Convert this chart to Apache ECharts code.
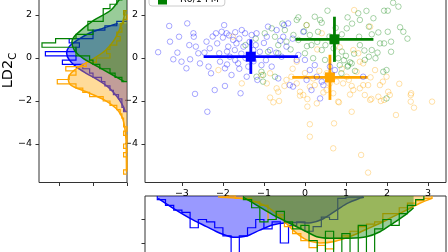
<!DOCTYPE html>
<html>
<head>
<meta charset="utf-8">
<script src="https://cdn.jsdelivr.net/npm/echarts@6/dist/echarts.min.js"></script>
<style>
html, body { margin: 0; padding: 0; background: #fff; }
#chart { width: 448px; height: 252px; }
</style>
</head>
<body>
<div id="chart"></div>
<script>
// scatter points [LD1, LD2] per group
const bluePts = [[-3.58,0.27],[-3.31,1.49],[-3.29,0.76],[-3.21,-0.06],[-3.11,0.25],[-3.07,0.99],[-3.01,-0.17],[-2.87,1.61],[-2.89,-0.48],[-2.82,0.6],[-2.8,-0.06],[-2.72,1.15],[-2.71,0.99],[-2.68,-1.67],[-2.66,0.53],[-2.6,0.22],[-2.56,-0.25],[-2.4,0.76],[-2.38,-2.5],[-2.35,-0.4],[-2.32,0.45],[-2.29,-0.71],[-2.2,-1.49],[-2.17,1.15],[-2.14,0.68],[-2.09,0.22],[-2.07,-0.17],[-2.03,1.22],[-1.97,1.53],[-1.95,-0.48],[-1.95,-1.3],[-1.91,1.15],[-1.87,0.53],[-1.83,0.06],[-1.79,-0.79],[-1.75,0.84],[-1.71,0.37],[-1.67,0.68],[-1.63,-0.25],[-1.57,-1.64],[-1.54,1.3],[-1.5,0.53],[-1.46,1.15],[-1.42,-0.87],[-1.38,-0.4],[-1.3,1.07],[-1.26,0.37],[-1.18,1.15],[-1.16,-1.02],[-1.1,0.29],[-1.06,-0.33],[-0.93,0.99],[-0.9,1.46],[-0.85,0.37],[-0.81,-0.4],[-0.69,1.3],[-0.65,-0.95],[-0.57,0.06],[-0.53,0.99],[-0.51,1.53],[-0.45,0.53],[-0.41,1.61],[-0.37,-1.26],[-0.29,-1.33],[-0.2,-0.09],[-0.16,0.14],[-0.04,1.22],[0,-0.09],[0.04,-1.02],[0.12,-0.56],[0.16,-1.49],[0.24,-0.33],[0.29,-0.87],[0.37,-1.88],[0.41,-1.1],[0.45,-1.26],[0.61,-0.4],[0.73,-0.56],[1.42,-0.87],
  [-2.0,0.95],[-1.85,1.05],[-1.7,1.2],[-1.6,0.9],[-1.55,0.2],[-1.45,0.0],[-1.7,-0.1],[-1.9,0.3],[-1.6,-0.5],[-1.35,0.75],[-1.25,-0.15],[-1.9,-0.3],[-2.25,1.0],[-2.45,0.25],[-1.2,0.6],[-1.0,0.7],[-0.7,0.25],[-0.3,0.9],[-0.6,0.8],[-0.95,-0.1]];
const orangePts = [[-2.11,-0.56],[-1.54,-1.18],[-1.06,-0.79],[-0.93,-1.18],[-0.85,-0.71],[-0.69,-1.41],[-0.65,-1.57],[-0.45,-1.02],[-0.33,-0.87],[-0.2,-1.18],[-0.12,-1.57],[-0.04,-1.72],[0.04,1.53],[0.12,-1.33],[0.24,-1.26],[0.29,-2.11],[0.41,1.15],[0.53,-1.49],[0.69,-1.64],[0.77,-1.1],[0.81,-2.03],[0.93,-1.18],[1.18,0.37],[1.26,-0.64],[1.34,-0.17],[1.59,1.46],[1.71,-0.56],[0.53,-0.71],[1.02,-0.87],[1.42,-1.26],[-0.2,-0.17],
  [-0.85,-1.84],[-0.77,-2.06],[-0.63,-2.0],[-0.12,-1.75],[0.06,-1.91],[0.06,-2.26],[0.12,-3.08],[0.12,-3.66],[0.71,-3.04],[0.69,-4.2],[0.83,-2.06],[1.14,-2.5],[1.37,-4.51],[1.54,-5.33],[1.59,-1.95],[1.46,-1.72],[1.85,-2.0],[1.93,-1.95],[2.07,-1.72],[2.22,-2.65],[2.58,-2.03],[2.66,-2.31],[3.1,-2.03],[2.58,-1.72],
  [1.07,-1.02],[1.14,-1.3],[1.18,-1.49],[1.34,-1.41],[1.54,-1.26],[1.62,-1.9],[1.79,-1.8],[1.83,-1.26],[2.03,-1.57],[1.99,-0.87],[1.2,2.23],[1.3,0.22],[1.42,-0.25],[2.59,-1.64],[-1.76,0.99],
  [0.35,-0.6],[0.6,-1.2],[0.9,-0.5],[0.2,-0.95],[1.1,-1.7],[0.45,-1.6],[0.0,-0.7],[-0.5,-1.3],[1.6,-0.9],[2.3,-1.2],[1.9,-1.1],[-0.3,-0.5],[0.85,0.5],[0.3,0.4]];
const greenPts = [[1.04,1.89],[1.3,2.08],[1.34,1.77],[1.5,2.19],[1.67,1.85],[1.93,2.2],[2.02,2.2],[2.15,2.57],[2.28,2.39],[2.32,1.43],[2.4,1.22],[1.02,1.38],[1.56,1.46],[1.63,1.1],[1.79,1.19],[2.02,1.22],[1.32,0.99],[1.83,0.68],[2.1,0.76],[1.34,0.6],[1.93,0.68],[1.63,0.37],[1.77,0.25],[2.1,0.29],[1.56,0.06],[1.72,-0.01],[1.46,-0.09],[1.14,-0.25],[1.22,-0.6],[1.99,-0.56],[1.04,-0.4],
  [-0.16,1.89],[0.04,1.53],[0.24,1.92],[0.41,1.64],[0.55,2.2],[-0.98,1.15],[-0.81,1.38],[-0.73,0.99],[-0.65,0.6],[-0.49,1.3],[-0.45,0.76],[-0.28,1.07],[-0.16,0.84],[-0.02,1.24],[0.12,1.07],[0.16,0.6],[0.32,1.22],[0.41,0.37],[-0.9,0.29],[-0.65,0.22],[0,0.22],[0.2,-0.01],[0.49,-0.09],[0.81,-0.01],[0.85,-0.33],[-1.06,-0.64],[-1.18,-0.87],[-1.02,-1.1],[-0.73,-0.87],[0.89,-0.71],
  [-1.02,-0.79],[-0.2,1.77],[0.37,1.77],[1.91,-0.64],[1.99,-1.88],
  [1.0,0.1],[1.1,-0.2],[0.9,0.3],[1.2,0.2],[1.05,-0.35],[0.95,-0.1],
  [0.6,1.0],[0.75,1.4],[0.9,1.1],[1.15,1.6],[0.5,0.6],[0.7,0.45],[1.45,0.35],[0.3,0.75],[-0.35,0.4],[-1.2,0.9],[-0.55,1.6],[0.05,0.55],[2.5,0.9],[-1.45,0.6],[2.62,2.85]];

// group means and spreads (blue, orange, green)
const groupNames = ['R6/1 AM', 'R6/1 noon', 'R6/1 PM'];
const meanX = [-1.32, 0.61, 0.72];
const meanY = [0.06, -0.9, 0.87];
const errX = [1.15, 0.92, 0.95];
const errY = [0.8, 1.05, 1.05];

// marginal densities along LD2 (left panel)
const blueKdeYAt = [1.61,1.38,1.15,0.84,0.53,0.22,-0.09,-0.4,-0.71,-1.02,-1.33,-1.64,-1.95,-2.26,-2.5];
const blueKdeY = [0.055,0.143,0.222,0.29,0.34,0.355,0.34,0.3,0.24,0.172,0.114,0.075,0.045,0.022,0.01];
const orangeKdeYAt = [2.23,1.77,1.3,0.84,0.37,-0.01,-0.4,-0.71,-0.95,-1.26,-1.57,-1.95,-2.34,-2.73,-3.2,-3.8,-4.5,-5.33];
const orangeKdeY = [0.01,0.022,0.045,0.075,0.124,0.192,0.28,0.33,0.345,0.33,0.24,0.134,0.065,0.03,0.014,0.006,0.004,0.003];
const greenKdeYAt = [2.9,2.23,1.77,1.3,1.0,0.76,0.37,-0.01,-0.4,-0.79,-1.1];
const greenKdeY = [0.03,0.094,0.192,0.27,0.31,0.324,0.31,0.26,0.172,0.084,0.016];

// marginal densities along LD1 (bottom panel)
const blueKdeXAt = [-3.58,-3.21,-2.8,-2.4,-2.07,-1.75,-1.42,-1.1,-0.77,-0.45,-0.12,0.15,0.41,0.69,1.02,1.34,1.44];
const blueKdeX = [0.02,0.105,0.19,0.26,0.317,0.351,0.34,0.29,0.245,0.228,0.225,0.228,0.2,0.14,0.065,0.018,0.01];
const orangeKdeXAt = [-2.07,-1.6,-1.3,-0.93,-0.61,-0.29,0.04,0.37,0.69,1.1,1.5,1.83,2.15,2.48,2.8,3.1];
const orangeKdeX = [0.011,0.02,0.04,0.09,0.176,0.29,0.374,0.4,0.39,0.346,0.283,0.232,0.176,0.119,0.062,0.02];
const greenKdeXAt = [-1.5,-1.18,-0.77,-0.37,0.04,0.29,0.61,1.02,1.5,1.83,2.15,2.45,2.65];
const greenKdeX = [0.011,0.077,0.162,0.232,0.304,0.346,0.36,0.36,0.346,0.304,0.232,0.16,0.1];

// step histograms: first bin edge + bin heights, bins 0.2 wide
const binW = 0.2;
const blueHistYStart = -2.5;
const blueHistY = [0.02,0.03,0.03,0.05,0.08,0.1,0.13,0.15,0.2,0.22,0.26,0.38,0.3,0.48,0.3,0.28,0.34,0.2,0.2,0.13,0.06];
const orangeHistYStart = -5.4;
const orangeHistY = [0.02,0,0,0,0.02,0,0.02,0,0,0.02,0,0.02,0.02,0.03,0.04,0.06,0.1,0.14,0.22,0.26,0.3,0.41,0.34,0.3,0.36,0.24,0.18,0.1,0.12,0.1,0.06,0.04,0.06,0.03,0.04,0.02,0,0.02];
const greenHistYStart = -1.1;
const greenHistY = [0.03,0.07,0.1,0.16,0.2,0.22,0.3,0.3,0.5,0.42,0.3,0.2,0.23,0.23,0.14,0.14,0.14,0.1,0.06,0.03];
const blueHistXStart = -3.6;
const blueHistX = [0.03,0.08,0.12,0.14,0.27,0.2,0.22,0.27,0.34,0.6,0.34,0.27,0.2,0.28,0.22,0.4,0.25,0.22,0.3,0.26,0.18,0.2,0.02,0.01,0.01];
const orangeHistXStart = -2.1;
const orangeHistX = [0.01,0,0.02,0.02,0.05,0.08,0.2,0.16,0.26,0.32,0.38,0.44,0.42,0.45,0.36,0.34,0.3,0.26,0.24,0.22,0.15,0.15,0.1,0.06,0.04,0.02];
const greenHistXStart = -1.5;
const greenHistX = [0.03,0.1,0.22,0.2,0.13,0.22,0.28,0.25,0.38,0.6,0.3,0.6,0.32,0.6,0.25,0.6,0.28,0.2,0.25,0.15,0.08,0.03];

const xTicks = [-3, -2, -1, 0, 1, 2, 3];
const yTicks = [-4, -2, 0, 2];

const colors = ['#0000ff', '#ffa500', '#008000'];
const frame = '#333';

function minus(v) { return v < 0 ? '\u2212' + (-v) : '' + v; }
function fade(hex, a) {
    const n = parseInt(hex.slice(1), 16);
    return 'rgba(' + (n >> 16) + ',' + ((n >> 8) & 255) + ',' + (n & 255) + ',' + a + ')';
}
function bbox(pts) {
    const xs = pts.map(p => p[0]), ys = pts.map(p => p[1]);
    return [[Math.min.apply(null, xs), Math.min.apply(null, ys)], [Math.max.apply(null, xs), Math.max.apply(null, ys)]];
}

const myChart = echarts.init(document.getElementById('chart'), null, { renderer: 'canvas' });

function scatterSeries(pts, i) {
    return {
        type: 'scatter', xAxisIndex: 0, yAxisIndex: 0, data: pts, silent: true,
        symbol: 'circle', symbolSize: 5.5,
        itemStyle: { color: 'rgba(0,0,0,0)', borderColor: fade(colors[i], 0.42), borderWidth: 1 }
    };
}

function meanSeries(i) {
    const c = colors[i];
    return {
        type: 'custom', name: groupNames[i], xAxisIndex: 0, yAxisIndex: 0, silent: true,
        itemStyle: { color: c },
        data: [[meanX[i], meanY[i], errX[i], errY[i]]],
        encode: { x: 0, y: 1 },
        renderItem: function (params, api) {
            const x = api.value(0), y = api.value(1), ex = api.value(2), ey = api.value(3);
            const m = api.coord([x, y]);
            const l = api.coord([x - ex, y]), r = api.coord([x + ex, y]);
            const t = api.coord([x, y + ey]), b = api.coord([x, y - ey]);
            return {
                type: 'group', children: [
                    { type: 'line', shape: { x1: l[0], y1: l[1], x2: r[0], y2: r[1] }, style: { stroke: c, lineWidth: 2.8 } },
                    { type: 'line', shape: { x1: t[0], y1: t[1], x2: b[0], y2: b[1] }, style: { stroke: c, lineWidth: 2.8 } },
                    { type: 'rect', shape: { x: m[0] - 5, y: m[1] - 5, width: 10, height: 10 }, style: { fill: c } }
                ]
            };
        }
    };
}

// side = 'y' : left panel (density on x), side = 'x' : bottom panel
function marginSeries(side, i, kAt, kDen, hStart, hVals) {
    const c = colors[i];
    const gi = side === 'y' ? 1 : 2;
    return {
        type: 'custom', xAxisIndex: gi, yAxisIndex: gi, silent: true,
        data: [[0, 0]],
        renderItem: function (params, api) {
            const P = (pos, d) => side === 'y' ? api.coord([d, pos]) : api.coord([pos, d]);
            const curve = kAt.map((p, k) => P(p, kDen[k]));
            const fill = [P(kAt[0], 0)].concat(curve, [P(kAt[kAt.length - 1], 0)]);
            const hist = [P(hStart, 0)];
            hVals.forEach((h, k) => {
                hist.push(P(hStart + k * binW, h));
                hist.push(P(hStart + (k + 1) * binW, h));
            });
            hist.push(P(hStart + hVals.length * binW, 0));
            return {
                type: 'group', children: [
                    { type: 'polyline', shape: { points: hist }, style: { fill: null, stroke: c, lineWidth: 1.2 } },
                    { type: 'polygon', shape: { points: fill, smooth: 0.3, smoothConstraint: bbox(fill) }, style: { fill: fade(c, 0.4) } },
                    { type: 'polyline', shape: { points: curve, smooth: 0.3, smoothConstraint: bbox(fill) }, style: { fill: null, stroke: c, lineWidth: 1.5 } }
                ]
            };
        }
    };
}

const tickFont = { fontSize: 9.5, color: '#000', fontFamily: 'DejaVu Sans' };
const mainY = { min: -5.79, max: 3.628 };
const mainX = { min: -3.9, max: 3.44 };
const noLine = { show: false, onZero: false };

const option = {
    animation: false,
    backgroundColor: '#fff',
    grid: [
        { left: 145, top: -20, width: 301, height: 202.5, show: true, borderColor: frame, borderWidth: 1, outerBoundsMode: 'none' },
        { left: 39, top: -20, width: 88, height: 202.5, show: true, borderColor: frame, borderWidth: 1, outerBoundsMode: 'none' },
        { left: 145, top: 196, width: 301, height: 94, show: true, borderColor: frame, borderWidth: 1, outerBoundsMode: 'none' }
    ],
    xAxis: [
        {
            gridIndex: 0, type: 'value', min: mainX.min, max: mainX.max,
            axisLine: noLine, splitLine: { show: false },
            axisTick: { customValues: xTicks, length: 3.5, lineStyle: { color: frame } },
            axisLabel: Object.assign({ customValues: xTicks, formatter: minus, margin: 6 }, tickFont)
        },
        {
            gridIndex: 1, type: 'value', min: 0, max: 0.5176, inverse: true,
            axisLine: noLine, splitLine: { show: false },
            axisTick: { customValues: [0, 0.2, 0.4], length: 3.5, lineStyle: { color: frame } },
            axisLabel: { show: false }
        },
        {
            gridIndex: 2, type: 'value', min: mainX.min, max: mainX.max, position: 'top',
            axisLine: noLine, splitLine: { show: false }, axisTick: { show: false }, axisLabel: { show: false }
        }
    ],
    yAxis: [
        {
            gridIndex: 0, type: 'value', min: mainY.min, max: mainY.max,
            axisLine: noLine, splitLine: { show: false },
            axisTick: { customValues: yTicks, length: 3.5, lineStyle: { color: frame } },
            axisLabel: Object.assign({ customValues: yTicks, formatter: minus, margin: 7 }, tickFont)
        },
        {
            gridIndex: 1, type: 'value', min: mainY.min, max: mainY.max,
            axisLine: noLine, splitLine: { show: false },
            axisTick: { customValues: yTicks, length: 3.5, lineStyle: { color: frame } },
            axisLabel: Object.assign({ customValues: yTicks, formatter: minus, margin: 7 }, tickFont)
        },
        {
            gridIndex: 2, type: 'value', min: 0, max: 0.8, inverse: true,
            axisLine: noLine, splitLine: { show: false },
            axisTick: { customValues: [0.2, 0.4, 0.6], length: 3.5, lineStyle: { color: frame } },
            axisLabel: { show: false }
        }
    ],
    legend: {
        data: [{ name: groupNames[2], icon: 'rect' }],
        orient: 'vertical', left: 149, top: -10,
        itemWidth: 9, itemHeight: 9, itemGap: 4,
        padding: [5, 6, 1, 9],
        backgroundColor: '#fff', borderColor: '#ccc', borderWidth: 1, borderRadius: 3,
        selectedMode: false,
        textStyle: { fontSize: 9.5, color: '#000', fontFamily: 'DejaVu Sans', lineHeight: 9, padding: [0, 0, 0, 8] }
    },
    graphic: [{
        type: 'text', x: 9.5, y: 70.5, rotation: Math.PI / 2, silent: true,
        style: {
            text: '{m|LD2}{s|C}',
            align: 'center', verticalAlign: 'middle', textAlign: 'center', textVerticalAlign: 'middle',
            fill: '#000',
            rich: {
                m: { fontSize: 14.5, fontFamily: 'DejaVu Sans', lineHeight: 16, verticalAlign: 'top', fill: '#000' },
                s: { fontSize: 10, fontFamily: 'DejaVu Sans', lineHeight: 17, verticalAlign: 'bottom', fill: '#000' }
            }
        }
    }],
    series: [
        scatterSeries(orangePts, 1),
        scatterSeries(greenPts, 2),
        scatterSeries(bluePts, 0),
        meanSeries(0), meanSeries(1), meanSeries(2),
        marginSeries('y', 0, blueKdeYAt, blueKdeY, blueHistYStart, blueHistY),
        marginSeries('y', 1, orangeKdeYAt, orangeKdeY, orangeHistYStart, orangeHistY),
        marginSeries('y', 2, greenKdeYAt, greenKdeY, greenHistYStart, greenHistY),
        marginSeries('x', 0, blueKdeXAt, blueKdeX, blueHistXStart, blueHistX),
        marginSeries('x', 1, orangeKdeXAt, orangeKdeX, orangeHistXStart, orangeHistX),
        marginSeries('x', 2, greenKdeXAt, greenKdeX, greenHistXStart, greenHistX)
    ]
};

myChart.setOption(option);
</script>
</body>
</html>
